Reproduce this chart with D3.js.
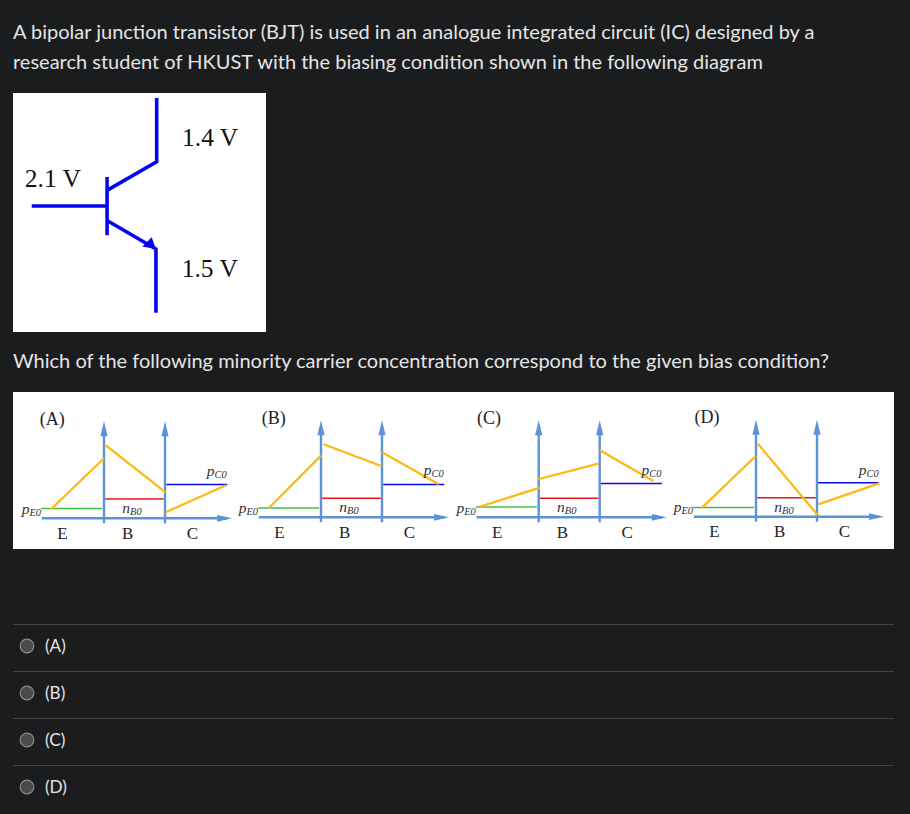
<!DOCTYPE html>
<html><head><meta charset="utf-8">
<script src="https://cdn.jsdelivr.net/npm/d3@7"></script>
<style>html,body{margin:0;padding:0;background:#1b1c1e;overflow:hidden}svg{display:block}</style>
</head><body><div id="c"></div>
<script>
// ---- text
const questionLines = ["A bipolar junction transistor (BJT) is used in an analogue integrated circuit (IC) designed by a",
  "research student of HKUST with the biasing condition shown in the following diagram"];
const promptText = "Which of the following minority carrier concentration correspond to the given bias condition?";
const optionNames = ["(A)","(B)","(C)","(D)"];
const regionNames = ["E","B","C"];
const regionCentres = [-0.68,0.39,1.45];
// ---- schematic (units 0-100 across the symbol)
const collectorPath = [[100,0],[100,29.7],[60.6,42.9]];
const emitterPath = [[60.6,57.2],[99.4,70.3],[99.4,100]];
const baseBar = [[60.3,36.8],[60.3,63.9]];
const baseLead = [[0,50.3],[60,50.3]];
const emitterArrow = [[99.4,70.3],[88.5,69.2],[96,64.8]];
const voltageLabels = ["2.1 V","1.4 V","1.5 V"];
// ---- equilibrium levels (same order as optionNames)
const pE0 = [9.7,9.3,10.3,9.3];
const nB0 = [19.3,19,19,19];
const pC0 = [33.7,32.7,33.7,34];
// ---- carrier profiles [position, concentration]
const emitterProfiles = [[[-0.87,9],[0,60]],[[-0.86,9],[0,61.7]],[[-0.96,10.7],[0.02,29.7]],[[-0.88,9.3],[0,61]]];
const baseProfiles = [[[0.03,73],[1.01,26]],[[0.04,73],[1,51]],[[-0.01,38],[0.98,53.7]],[[0.03,73],[1.01,1.7]]];
const collectorProfiles = [[[1.01,6],[2,33]],[[1,65],[1.93,33]],[[1,67],[1.88,36.3]],[[1.02,12.3],[2.02,33.3]]];
// ---- panel placement
const panelStart = [104,321,538.7,756];
const panelBase = [518.3,517.3,517.3,516.7];
const panelTagPos = [-0.85,-0.775,-0.815,-0.805];

const W=910,H=814;
const svg=d3.select("#c").append("svg").attr("width",W).attr("height",H);
const LATO="Lato,'Open Sans',sans-serif", SERIF="'Liberation Serif',serif";
const ink="#e4e5e6";
svg.append("rect").attr("width",W).attr("height",H).attr("fill","#1b1c1e");

svg.selectAll("text.q").data(questionLines).join("text").attr("class","q")
  .attr("x",13).attr("y",(d,i)=>39+i*30).attr("font-family",LATO).attr("font-size",20).attr("fill",ink).text(d=>d);
svg.append("text").attr("x",13).attr("y",368).attr("font-family",LATO).attr("font-size",20).attr("fill",ink).text(promptText);

// schematic
svg.append("rect").attr("x",13).attr("y",93).attr("width",253).attr("height",239).attr("fill","#fff");
const sx=d3.scaleLinear().domain([0,100]).range([31.7,156.7]);
const sy=d3.scaleLinear().domain([0,100]).range([98,312.7]);
const sLine=d3.line().x(d=>sx(d[0])).y(d=>sy(d[1]));
[collectorPath,emitterPath,baseBar,baseLead].forEach(p=>{
  svg.append("path").attr("d",sLine(p)).attr("fill","none").attr("stroke","#0505f0").attr("stroke-width",3.6);
});
svg.append("path").attr("d",sLine(emitterArrow)+"Z").attr("fill","#0505f0");
const vPos=[[-5.5,41.6],[120.3,22.3],[120,83.2]];
svg.selectAll("text.v").data(voltageLabels).join("text").attr("class","v")
  .attr("x",(d,i)=>sx(vPos[i][0])).attr("y",(d,i)=>sy(vPos[i][1]))
  .attr("font-family",SERIF).attr("font-size",25.5).attr("fill","#111").text(d=>d);

// panels
svg.append("rect").attr("x",13).attr("y",392).attr("width",881).attr("height",157).attr("fill","#fff");
optionNames.forEach((name,i)=>{
  const x=d3.scaleLinear().domain([0,1]).range([panelStart[i],panelStart[i]+61]);
  const y=d3.scaleLinear().domain([0,100]).range([panelBase[i],panelBase[i]-100]);
  const line=d3.line().x(d=>x(d[0])).y(d=>y(d[1]));
  const g=svg.append("g");
  const axisColor="#5c93d8";
  const arrow=(a,b)=>{
    g.append("path").attr("d",line([a,b])).attr("stroke",axisColor).attr("stroke-width",2.4).attr("fill","none");
  };
  // horizontal axis
  arrow([-1.02,0],[2.02,0]);
  const ax=x(2.1), ay=y(0);
  g.append("path").attr("d",`M${ax},${ay}L${ax-15},${ay-3.4}L${ax-15},${ay+3.4}Z`).attr("fill",axisColor);
  // vertical axes
  [0,1].forEach(j=>{
    arrow([j,-5],[j,90]);
    const tx=x(j), ty=y(97);
    g.append("path").attr("d",`M${tx},${ty}L${tx+3.6},${ty+15}L${tx-3.6},${ty+15}Z`).attr("fill",axisColor);
  });
  // equilibrium levels
  const lev=(a,b,v,c)=>g.append("path").attr("d",line([[a,v],[b,v]])).attr("stroke",c).attr("stroke-width",1.5).attr("fill","none");
  lev(-1.03,-0.03,pE0[i],"#3dc43d");
  lev(0.02,0.98,nB0[i],"#ee1414");
  lev(1.02,2.02,pC0[i],"#0a0aee");
  // profiles
  [emitterProfiles,baseProfiles,collectorProfiles].forEach(set=>{
    g.append("path").attr("d",line(set[i])).attr("stroke","#fdb813").attr("stroke-width",2.2).attr("fill","none");
  });
  // labels
  g.append("text").attr("x",x(panelTagPos[i])).attr("y",y(93.5)).attr("text-anchor","middle")
    .attr("font-family",SERIF).attr("font-size",18).attr("fill","#222").text(name);
  regionNames.forEach((r,k)=>g.append("text").attr("x",x(regionCentres[k])).attr("y",y(-20.5)).attr("text-anchor","middle")
    .attr("font-family",SERIF).attr("font-size",17).attr("fill","#222").text(r));
  const sub=(px,pv,a,b)=>{
    const t=g.append("text").attr("x",x(px)).attr("y",y(pv)).attr("text-anchor","middle")
      .attr("font-family",SERIF).attr("font-style","italic").attr("fill","#333").attr("font-size",15.5);
    t.append("tspan").text(a);
    t.append("tspan").attr("font-size",10.5).attr("dy",2).text(b);
  };
  sub(-1.19,4.5,"p","E0");
  sub(0.46,5,"n","B0");
  sub(1.85,42,"p","C0");
});

// options
const ry=d3.scalePoint().domain(optionNames).range([646,787]);
optionNames.forEach((n,i)=>{
  const yy=ry(n);
  svg.append("line").attr("x1",13).attr("x2",894).attr("y1",yy-21.5).attr("y2",yy-21.5).attr("stroke","#414243").attr("stroke-width",1);
  svg.append("circle").attr("cx",27).attr("cy",yy).attr("r",6.8).attr("fill","#4a4b4c").attr("stroke","#8a8b8c").attr("stroke-width",1.2);
  svg.append("text").attr("x",45).attr("y",yy+6).attr("font-family",LATO).attr("font-size",17.2).attr("fill",ink).text(n);
});
</script></body></html>
